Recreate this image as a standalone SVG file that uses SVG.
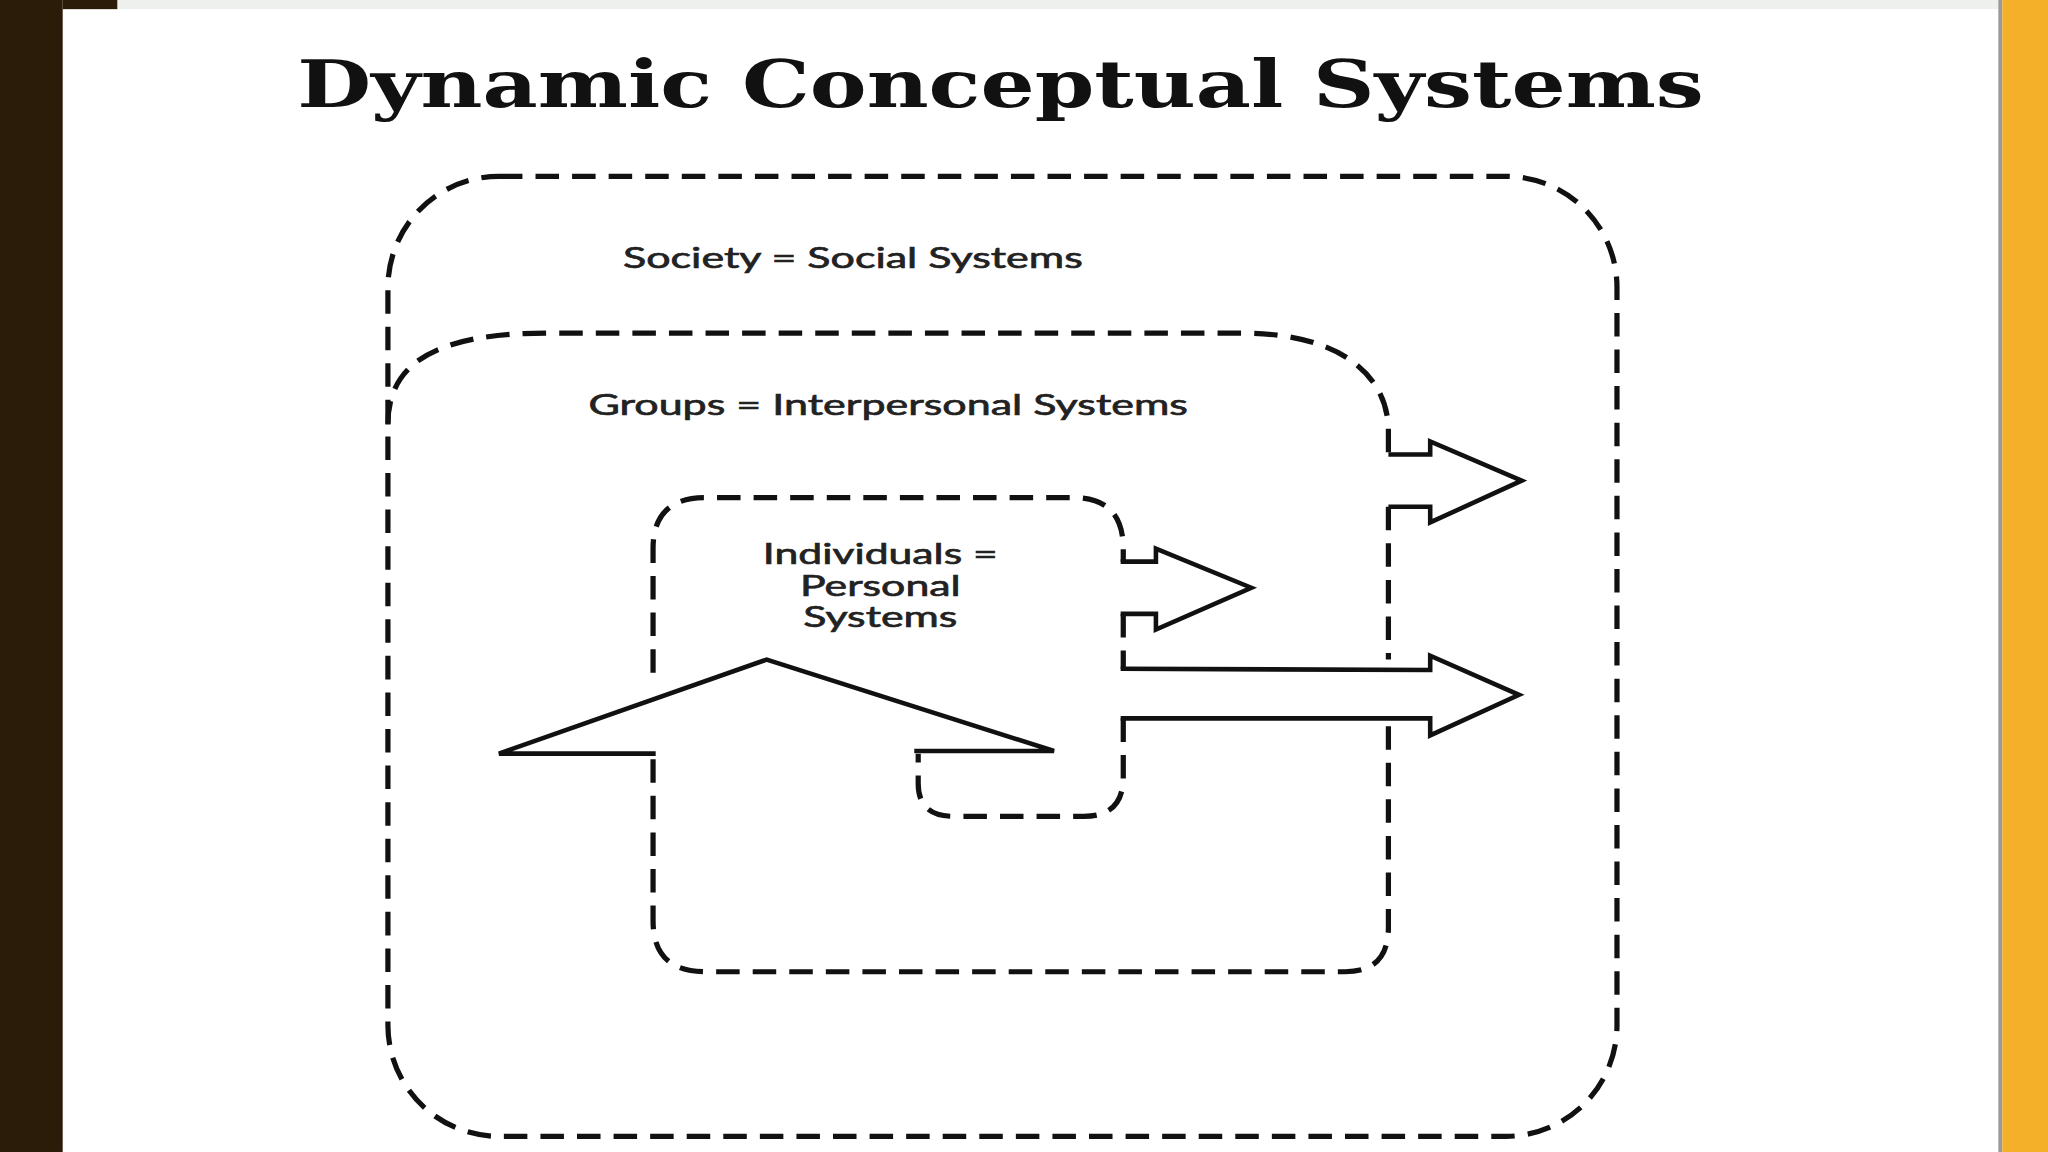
<svg xmlns="http://www.w3.org/2000/svg" width="2048" height="1152" viewBox="0 0 2048 1152">
<style>
.d{fill:none;stroke:#111;stroke-width:4;stroke-dasharray:18 10}
.a{fill:none;stroke:#111;stroke-width:3.5;stroke-linejoin:miter}
.t{font-family:Lato,"Liberation Sans",sans-serif;font-size:22px;fill:#222;stroke:#222;stroke-width:0.5;text-anchor:middle}
</style>
<g transform="scale(1.30612)">
<rect x="0" y="0" width="1568" height="882" fill="#ffffff"/>
<rect x="0" y="0" width="48" height="882" fill="#2b1b09"/>
<rect x="48" y="0" width="42" height="7" fill="#2b1b09"/>
<rect x="90" y="0" width="1442" height="7" fill="#eef0ee"/>
<rect x="1530" y="0" width="3" height="882" fill="#999"/>
<rect x="1533" y="0" width="35" height="882" fill="#f5b02a"/>
<text x="766" y="82" font-family="'DejaVu Serif','Liberation Serif',serif" font-weight="bold" font-size="50" text-anchor="middle" textLength="1077" lengthAdjust="spacingAndGlyphs" fill="#111">Dynamic Conceptual Systems</text>
<g id="society">
<rect class="d" x="297" y="135" width="941" height="735" rx="85"/>
<text class="t" x="653" y="205" textLength="352" lengthAdjust="spacingAndGlyphs">Society = Social Systems</text>
</g>
<g id="groups">
<path class="d" d="M297,325 C297,280 330,255 420,255 L950,255 C1030,255 1063,290 1063,330 L1063,348"/>
<path class="d" d="M1063,388 L1063,505"/>
<path class="d" d="M1063,556 L1063,710 Q1063,744 1030,744 L540,744 Q500,744 500,705 L500,580"/>
<text class="t" x="680" y="318" textLength="459" lengthAdjust="spacingAndGlyphs">Groups = Interpersonal Systems</text>
</g>
<g id="individuals">
<path class="d" d="M500,515 L500,420 Q500,381 540,381 L822,381 Q860,381 860,420 L860,430"/>
<path class="d" d="M860,470 L860,512"/>
<path class="d" d="M860,550 L860,595 Q860,625 830,625 L730,625 Q703,625 703,600 L703,577"/>
<text class="t" x="674" y="432" textLength="180" lengthAdjust="spacingAndGlyphs">Individuals =</text>
<text class="t" x="674" y="456" textLength="123" lengthAdjust="spacingAndGlyphs">Personal</text>
<text class="t" x="674" y="480" textLength="118" lengthAdjust="spacingAndGlyphs">Systems</text>
</g>
<g id="connectors">
<path class="a" d="M1063,348 L1095,348 L1095,338 L1165,368 L1095,400 L1095,388 L1063,388"/>
<path class="a" d="M858,430 L885,430 L885,420 L958,450 L885,482 L885,470 L858,470"/>
<path class="a" d="M858,512 L1095,513 L1095,502 L1163,532 L1095,563 L1095,550 L858,550"/>
<path class="a" d="M502,577 L382,577 L587,505 L807,575 L700,575"/>
</g>
</g>
</svg>
